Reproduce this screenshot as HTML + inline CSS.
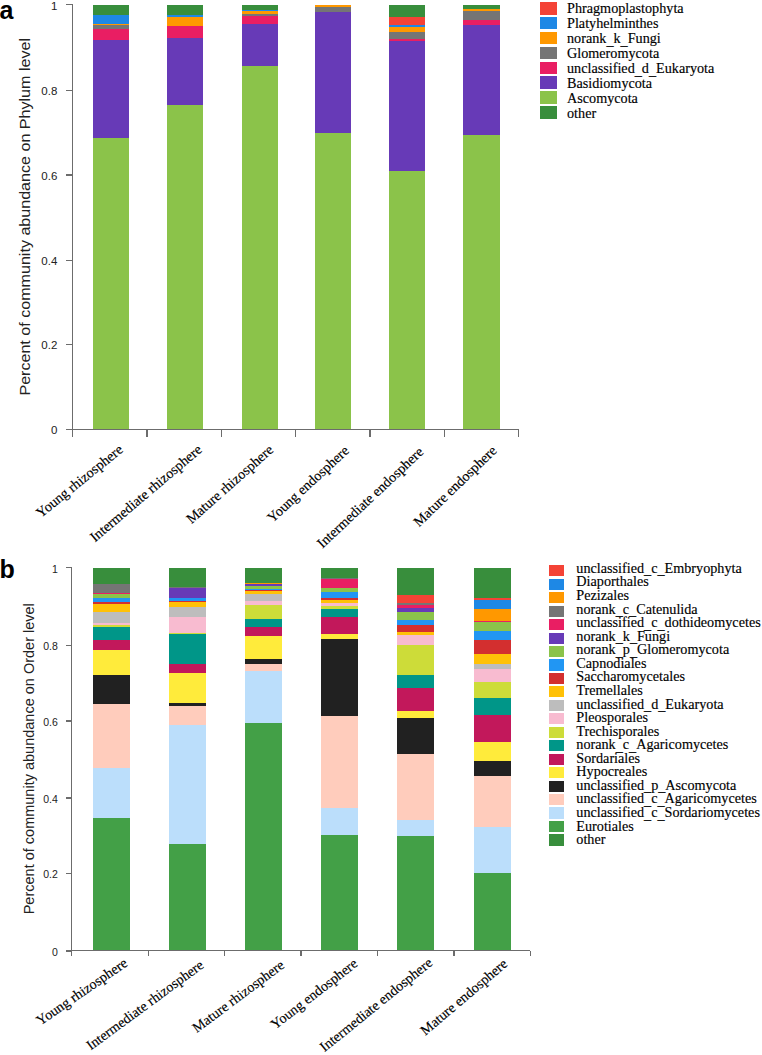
<!DOCTYPE html>
<html><head><meta charset="utf-8"><style>
html,body{margin:0;padding:0;background:#fff;width:762px;height:1055px;overflow:hidden}
svg{display:block}
svg text{shape-rendering:auto}
</style></head><body><svg width="762" height="1055" viewBox="0 0 762 1055" shape-rendering="crispEdges"><rect x="92.50" y="5.00" width="36.20" height="9.50" fill="#388E3C"/>
<rect x="92.50" y="14.50" width="36.20" height="9.40" fill="#1E88E5"/>
<rect x="92.50" y="23.90" width="36.20" height="1.30" fill="#FF9800"/>
<rect x="92.50" y="25.20" width="36.20" height="4.10" fill="#757575"/>
<rect x="92.50" y="29.30" width="36.20" height="10.80" fill="#E91E63"/>
<rect x="92.50" y="40.10" width="36.20" height="97.90" fill="#673AB7"/>
<rect x="92.50" y="138.00" width="36.20" height="291.60" fill="#8BC34A"/>
<rect x="167.00" y="5.00" width="36.20" height="10.00" fill="#388E3C"/>
<rect x="167.00" y="15.00" width="36.20" height="1.70" fill="#1E88E5"/>
<rect x="167.00" y="16.70" width="36.20" height="9.70" fill="#FF9800"/>
<rect x="167.00" y="26.40" width="36.20" height="11.50" fill="#E91E63"/>
<rect x="167.00" y="37.90" width="36.20" height="67.10" fill="#673AB7"/>
<rect x="167.00" y="105.00" width="36.20" height="324.60" fill="#8BC34A"/>
<rect x="241.60" y="5.00" width="36.20" height="4.90" fill="#388E3C"/>
<rect x="241.60" y="9.90" width="36.20" height="1.40" fill="#1E88E5"/>
<rect x="241.60" y="11.30" width="36.20" height="2.30" fill="#FF9800"/>
<rect x="241.60" y="13.60" width="36.20" height="2.60" fill="#757575"/>
<rect x="241.60" y="16.20" width="36.20" height="7.70" fill="#E91E63"/>
<rect x="241.60" y="23.90" width="36.20" height="41.90" fill="#673AB7"/>
<rect x="241.60" y="65.80" width="36.20" height="363.80" fill="#8BC34A"/>
<rect x="315.20" y="5.00" width="36.20" height="2.10" fill="#FF9800"/>
<rect x="315.20" y="7.10" width="36.20" height="5.10" fill="#757575"/>
<rect x="315.20" y="12.20" width="36.20" height="120.80" fill="#673AB7"/>
<rect x="315.20" y="133.00" width="36.20" height="296.60" fill="#8BC34A"/>
<rect x="388.90" y="5.00" width="36.20" height="11.60" fill="#388E3C"/>
<rect x="388.90" y="16.60" width="36.20" height="8.40" fill="#F44336"/>
<rect x="388.90" y="25.00" width="36.20" height="2.30" fill="#1E88E5"/>
<rect x="388.90" y="27.30" width="36.20" height="4.50" fill="#FF9800"/>
<rect x="388.90" y="31.80" width="36.20" height="7.00" fill="#757575"/>
<rect x="388.90" y="38.80" width="36.20" height="2.40" fill="#E91E63"/>
<rect x="388.90" y="41.20" width="36.20" height="130.10" fill="#673AB7"/>
<rect x="388.90" y="171.30" width="36.20" height="258.30" fill="#8BC34A"/>
<rect x="463.30" y="5.00" width="36.20" height="3.90" fill="#388E3C"/>
<rect x="463.30" y="8.90" width="36.20" height="2.20" fill="#FF9800"/>
<rect x="463.30" y="11.10" width="36.20" height="8.90" fill="#757575"/>
<rect x="463.30" y="20.00" width="36.20" height="5.20" fill="#E91E63"/>
<rect x="463.30" y="25.20" width="36.20" height="110.00" fill="#673AB7"/>
<rect x="463.30" y="135.20" width="36.20" height="294.40" fill="#8BC34A"/>
<line x1="72.60" y1="4.00" x2="72.60" y2="430.20" stroke="#6c6c6c" stroke-width="1.3"/>
<line x1="66.00" y1="429.60" x2="72.60" y2="429.60" stroke="#6c6c6c" stroke-width="1.3"/>
<text x="57.30" y="434.00" font-family="Liberation Sans" font-size="11.5" text-anchor="end" fill="#222">0</text>
<line x1="66.00" y1="344.40" x2="72.60" y2="344.40" stroke="#6c6c6c" stroke-width="1.3"/>
<text x="57.30" y="348.80" font-family="Liberation Sans" font-size="11.5" text-anchor="end" fill="#222">0.2</text>
<line x1="66.00" y1="260.20" x2="72.60" y2="260.20" stroke="#6c6c6c" stroke-width="1.3"/>
<text x="57.30" y="264.60" font-family="Liberation Sans" font-size="11.5" text-anchor="end" fill="#222">0.4</text>
<line x1="66.00" y1="175.10" x2="72.60" y2="175.10" stroke="#6c6c6c" stroke-width="1.3"/>
<text x="57.30" y="179.50" font-family="Liberation Sans" font-size="11.5" text-anchor="end" fill="#222">0.6</text>
<line x1="66.00" y1="90.80" x2="72.60" y2="90.80" stroke="#6c6c6c" stroke-width="1.3"/>
<text x="57.30" y="95.20" font-family="Liberation Sans" font-size="11.5" text-anchor="end" fill="#222">0.8</text>
<line x1="66.00" y1="4.40" x2="72.60" y2="4.40" stroke="#6c6c6c" stroke-width="1.3"/>
<text x="57.30" y="10.10" font-family="Liberation Sans" font-size="11.5" text-anchor="end" fill="#222">1</text>
<line x1="66.00" y1="429.60" x2="518.80" y2="429.60" stroke="#6c6c6c" stroke-width="1.3"/>
<line x1="72.80" y1="429.60" x2="72.80" y2="436.50" stroke="#6c6c6c" stroke-width="1.3"/>
<line x1="147.13" y1="429.60" x2="147.13" y2="436.50" stroke="#6c6c6c" stroke-width="1.3"/>
<line x1="221.47" y1="429.60" x2="221.47" y2="436.50" stroke="#6c6c6c" stroke-width="1.3"/>
<line x1="295.80" y1="429.60" x2="295.80" y2="436.50" stroke="#6c6c6c" stroke-width="1.3"/>
<line x1="370.13" y1="429.60" x2="370.13" y2="436.50" stroke="#6c6c6c" stroke-width="1.3"/>
<line x1="444.47" y1="429.60" x2="444.47" y2="436.50" stroke="#6c6c6c" stroke-width="1.3"/>
<line x1="518.80" y1="429.60" x2="518.80" y2="436.50" stroke="#6c6c6c" stroke-width="1.3"/>
<text x="0" y="0" font-family="Liberation Sans" font-size="16.1" fill="#222" transform="translate(30.2 395.6) rotate(-90) scale(1 0.91)">Percent of community abundance on Phylum level</text>
<text x="-0.50" y="18.60" font-family="Liberation Sans" font-size="25" text-anchor="start" fill="#000" font-weight="bold">a</text>
<text x="123.90" y="451.00" font-family="Liberation Serif" font-size="14.2" text-anchor="end" fill="#000" transform="rotate(-39 123.90 451.00)" stroke="#000" stroke-width="0.15">Young rhizosphere</text>
<text x="202.80" y="451.00" font-family="Liberation Serif" font-size="14.2" text-anchor="end" fill="#000" transform="rotate(-40.3 202.80 451.00)" stroke="#000" stroke-width="0.15">Intermediate rhizosphere</text>
<text x="274.30" y="451.00" font-family="Liberation Serif" font-size="14.2" text-anchor="end" fill="#000" transform="rotate(-41.5 274.30 451.00)" stroke="#000" stroke-width="0.15">Mature rhizosphere</text>
<text x="349.90" y="451.80" font-family="Liberation Serif" font-size="14.2" text-anchor="end" fill="#000" transform="rotate(-42.7 349.90 451.80)" stroke="#000" stroke-width="0.15">Young endosphere</text>
<text x="424.40" y="453.00" font-family="Liberation Serif" font-size="14.2" text-anchor="end" fill="#000" transform="rotate(-43.2 424.40 453.00)" stroke="#000" stroke-width="0.15">Intermediate endosphere</text>
<text x="497.50" y="451.60" font-family="Liberation Serif" font-size="14.2" text-anchor="end" fill="#000" transform="rotate(-44 497.50 451.60)" stroke="#000" stroke-width="0.15">Mature endosphere</text>
<rect x="540.00" y="2.00" width="17.00" height="12.50" fill="#F44336"/>
<text x="567.00" y="13.10" font-family="Liberation Serif" font-size="14.2" text-anchor="start" fill="#000" stroke="#000" stroke-width="0.15">Phragmoplastophyta</text>
<rect x="540.00" y="16.89" width="17.00" height="12.50" fill="#1E88E5"/>
<text x="567.00" y="28.09" font-family="Liberation Serif" font-size="14.2" text-anchor="start" fill="#000" stroke="#000" stroke-width="0.15">Platyhelminthes</text>
<rect x="540.00" y="31.78" width="17.00" height="12.50" fill="#FF9800"/>
<text x="567.00" y="43.08" font-family="Liberation Serif" font-size="14.2" text-anchor="start" fill="#000" stroke="#000" stroke-width="0.15">norank<tspan dy="1.5">_</tspan><tspan dy="-1.5">k</tspan><tspan dy="1.5">_</tspan><tspan dy="-1.5">Fungi</tspan></text>
<rect x="540.00" y="46.67" width="17.00" height="12.50" fill="#757575"/>
<text x="567.00" y="58.07" font-family="Liberation Serif" font-size="14.2" text-anchor="start" fill="#000" stroke="#000" stroke-width="0.15">Glomeromycota</text>
<rect x="540.00" y="61.56" width="17.00" height="12.50" fill="#E91E63"/>
<text x="567.00" y="73.06" font-family="Liberation Serif" font-size="14.2" text-anchor="start" fill="#000" stroke="#000" stroke-width="0.15">unclassified<tspan dy="1.5">_</tspan><tspan dy="-1.5">d</tspan><tspan dy="1.5">_</tspan><tspan dy="-1.5">Eukaryota</tspan></text>
<rect x="540.00" y="76.45" width="17.00" height="12.50" fill="#673AB7"/>
<text x="567.00" y="88.05" font-family="Liberation Serif" font-size="14.2" text-anchor="start" fill="#000" stroke="#000" stroke-width="0.15">Basidiomycota</text>
<rect x="540.00" y="91.34" width="17.00" height="12.50" fill="#8BC34A"/>
<text x="567.00" y="103.04" font-family="Liberation Serif" font-size="14.2" text-anchor="start" fill="#000" stroke="#000" stroke-width="0.15">Ascomycota</text>
<rect x="540.00" y="106.23" width="17.00" height="12.50" fill="#388E3C"/>
<text x="567.00" y="118.03" font-family="Liberation Serif" font-size="14.2" text-anchor="start" fill="#000" stroke="#000" stroke-width="0.15">other</text>
<rect x="92.80" y="568.10" width="37.00" height="16.10" fill="#388E3C"/>
<rect x="92.80" y="584.20" width="37.00" height="8.50" fill="#757575"/>
<rect x="92.80" y="592.70" width="37.00" height="1.40" fill="#E91E63"/>
<rect x="92.80" y="594.10" width="37.00" height="3.80" fill="#8BC34A"/>
<rect x="92.80" y="597.90" width="37.00" height="3.80" fill="#2196F3"/>
<rect x="92.80" y="601.70" width="37.00" height="2.70" fill="#D32F2F"/>
<rect x="92.80" y="604.40" width="37.00" height="7.70" fill="#FFC107"/>
<rect x="92.80" y="612.10" width="37.00" height="10.60" fill="#BDBDBD"/>
<rect x="92.80" y="622.70" width="37.00" height="2.00" fill="#F8BBD0"/>
<rect x="92.80" y="624.70" width="37.00" height="1.90" fill="#CDDC39"/>
<rect x="92.80" y="626.60" width="37.00" height="13.50" fill="#009688"/>
<rect x="92.80" y="640.10" width="37.00" height="10.20" fill="#C2185B"/>
<rect x="92.80" y="650.30" width="37.00" height="24.30" fill="#FFEB3B"/>
<rect x="92.80" y="674.60" width="37.00" height="29.50" fill="#212121"/>
<rect x="92.80" y="704.10" width="37.00" height="64.10" fill="#FFCCBC"/>
<rect x="92.80" y="768.20" width="37.00" height="49.30" fill="#BBDEFB"/>
<rect x="92.80" y="817.50" width="37.00" height="133.30" fill="#43A047"/>
<rect x="168.70" y="568.10" width="37.00" height="18.90" fill="#388E3C"/>
<rect x="168.70" y="587.00" width="37.00" height="1.40" fill="#757575"/>
<rect x="168.70" y="588.40" width="37.00" height="9.30" fill="#673AB7"/>
<rect x="168.70" y="597.70" width="37.00" height="2.90" fill="#2196F3"/>
<rect x="168.70" y="600.60" width="37.00" height="1.10" fill="#D32F2F"/>
<rect x="168.70" y="601.70" width="37.00" height="5.70" fill="#FFC107"/>
<rect x="168.70" y="607.40" width="37.00" height="9.30" fill="#BDBDBD"/>
<rect x="168.70" y="616.70" width="37.00" height="15.80" fill="#F8BBD0"/>
<rect x="168.70" y="632.50" width="37.00" height="1.20" fill="#CDDC39"/>
<rect x="168.70" y="633.70" width="37.00" height="30.50" fill="#009688"/>
<rect x="168.70" y="664.20" width="37.00" height="8.50" fill="#C2185B"/>
<rect x="168.70" y="672.70" width="37.00" height="30.00" fill="#FFEB3B"/>
<rect x="168.70" y="702.70" width="37.00" height="3.10" fill="#212121"/>
<rect x="168.70" y="705.80" width="37.00" height="18.80" fill="#FFCCBC"/>
<rect x="168.70" y="724.60" width="37.00" height="118.90" fill="#BBDEFB"/>
<rect x="168.70" y="843.50" width="37.00" height="107.30" fill="#43A047"/>
<rect x="245.20" y="568.10" width="37.00" height="15.10" fill="#388E3C"/>
<rect x="245.20" y="583.20" width="37.00" height="1.00" fill="#FF9800"/>
<rect x="245.20" y="584.20" width="37.00" height="1.90" fill="#673AB7"/>
<rect x="245.20" y="586.10" width="37.00" height="2.80" fill="#8BC34A"/>
<rect x="245.20" y="588.90" width="37.00" height="1.20" fill="#2196F3"/>
<rect x="245.20" y="590.10" width="37.00" height="0.70" fill="#D32F2F"/>
<rect x="245.20" y="590.80" width="37.00" height="3.10" fill="#FFC107"/>
<rect x="245.20" y="593.90" width="37.00" height="6.90" fill="#BDBDBD"/>
<rect x="245.20" y="600.80" width="37.00" height="3.70" fill="#F8BBD0"/>
<rect x="245.20" y="604.50" width="37.00" height="14.30" fill="#CDDC39"/>
<rect x="245.20" y="618.80" width="37.00" height="8.00" fill="#009688"/>
<rect x="245.20" y="626.80" width="37.00" height="9.00" fill="#C2185B"/>
<rect x="245.20" y="635.80" width="37.00" height="23.20" fill="#FFEB3B"/>
<rect x="245.20" y="659.00" width="37.00" height="4.70" fill="#212121"/>
<rect x="245.20" y="663.70" width="37.00" height="7.10" fill="#FFCCBC"/>
<rect x="245.20" y="670.80" width="37.00" height="51.70" fill="#BBDEFB"/>
<rect x="245.20" y="722.50" width="37.00" height="228.30" fill="#43A047"/>
<rect x="321.40" y="568.10" width="37.00" height="9.40" fill="#388E3C"/>
<rect x="321.40" y="577.50" width="37.00" height="1.00" fill="#757575"/>
<rect x="321.40" y="578.50" width="37.00" height="9.00" fill="#E91E63"/>
<rect x="321.40" y="587.50" width="37.00" height="4.50" fill="#8BC34A"/>
<rect x="321.40" y="592.00" width="37.00" height="5.90" fill="#2196F3"/>
<rect x="321.40" y="597.90" width="37.00" height="1.90" fill="#D32F2F"/>
<rect x="321.40" y="599.80" width="37.00" height="3.30" fill="#FFC107"/>
<rect x="321.40" y="603.10" width="37.00" height="3.30" fill="#F8BBD0"/>
<rect x="321.40" y="606.40" width="37.00" height="2.90" fill="#CDDC39"/>
<rect x="321.40" y="609.30" width="37.00" height="7.60" fill="#009688"/>
<rect x="321.40" y="616.90" width="37.00" height="17.00" fill="#C2185B"/>
<rect x="321.40" y="633.90" width="37.00" height="5.20" fill="#FFEB3B"/>
<rect x="321.40" y="639.10" width="37.00" height="76.70" fill="#212121"/>
<rect x="321.40" y="715.80" width="37.00" height="92.00" fill="#FFCCBC"/>
<rect x="321.40" y="807.80" width="37.00" height="27.50" fill="#BBDEFB"/>
<rect x="321.40" y="835.30" width="37.00" height="115.50" fill="#43A047"/>
<rect x="397.00" y="568.10" width="37.00" height="26.80" fill="#388E3C"/>
<rect x="397.00" y="594.90" width="37.00" height="8.20" fill="#F44336"/>
<rect x="397.00" y="603.10" width="37.00" height="1.60" fill="#757575"/>
<rect x="397.00" y="604.70" width="37.00" height="3.60" fill="#E91E63"/>
<rect x="397.00" y="608.30" width="37.00" height="3.60" fill="#673AB7"/>
<rect x="397.00" y="611.90" width="37.00" height="7.80" fill="#8BC34A"/>
<rect x="397.00" y="619.70" width="37.00" height="5.00" fill="#2196F3"/>
<rect x="397.00" y="624.70" width="37.00" height="7.30" fill="#D32F2F"/>
<rect x="397.00" y="632.00" width="37.00" height="3.40" fill="#FFC107"/>
<rect x="397.00" y="635.40" width="37.00" height="9.30" fill="#F8BBD0"/>
<rect x="397.00" y="644.70" width="37.00" height="29.90" fill="#CDDC39"/>
<rect x="397.00" y="674.60" width="37.00" height="13.60" fill="#009688"/>
<rect x="397.00" y="688.20" width="37.00" height="22.80" fill="#C2185B"/>
<rect x="397.00" y="711.00" width="37.00" height="7.00" fill="#FFEB3B"/>
<rect x="397.00" y="718.00" width="37.00" height="36.40" fill="#212121"/>
<rect x="397.00" y="754.40" width="37.00" height="66.00" fill="#FFCCBC"/>
<rect x="397.00" y="820.40" width="37.00" height="15.10" fill="#BBDEFB"/>
<rect x="397.00" y="835.50" width="37.00" height="115.30" fill="#43A047"/>
<rect x="473.90" y="568.10" width="37.00" height="30.30" fill="#388E3C"/>
<rect x="473.90" y="598.40" width="37.00" height="1.40" fill="#F44336"/>
<rect x="473.90" y="599.80" width="37.00" height="9.50" fill="#1E88E5"/>
<rect x="473.90" y="609.30" width="37.00" height="11.40" fill="#FF9800"/>
<rect x="473.90" y="620.70" width="37.00" height="1.10" fill="#E91E63"/>
<rect x="473.90" y="621.80" width="37.00" height="9.50" fill="#8BC34A"/>
<rect x="473.90" y="631.30" width="37.00" height="8.80" fill="#2196F3"/>
<rect x="473.90" y="640.10" width="37.00" height="13.90" fill="#D32F2F"/>
<rect x="473.90" y="654.00" width="37.00" height="10.20" fill="#FFC107"/>
<rect x="473.90" y="664.20" width="37.00" height="4.70" fill="#BDBDBD"/>
<rect x="473.90" y="668.90" width="37.00" height="13.30" fill="#F8BBD0"/>
<rect x="473.90" y="682.20" width="37.00" height="15.40" fill="#CDDC39"/>
<rect x="473.90" y="697.60" width="37.00" height="17.50" fill="#009688"/>
<rect x="473.90" y="715.10" width="37.00" height="26.60" fill="#C2185B"/>
<rect x="473.90" y="741.70" width="37.00" height="19.30" fill="#FFEB3B"/>
<rect x="473.90" y="761.00" width="37.00" height="14.50" fill="#212121"/>
<rect x="473.90" y="775.50" width="37.00" height="51.10" fill="#FFCCBC"/>
<rect x="473.90" y="826.60" width="37.00" height="45.90" fill="#BBDEFB"/>
<rect x="473.90" y="872.50" width="37.00" height="78.30" fill="#43A047"/>
<line x1="71.70" y1="567.00" x2="71.70" y2="951.40" stroke="#6c6c6c" stroke-width="1.3"/>
<line x1="66.00" y1="950.90" x2="71.70" y2="950.90" stroke="#6c6c6c" stroke-width="1.3"/>
<text x="57.80" y="955.70" font-family="Liberation Sans" font-size="10.5" text-anchor="end" fill="#222">0</text>
<line x1="66.00" y1="873.60" x2="71.70" y2="873.60" stroke="#6c6c6c" stroke-width="1.3"/>
<text x="57.80" y="878.40" font-family="Liberation Sans" font-size="10.5" text-anchor="end" fill="#222">0.2</text>
<line x1="66.00" y1="798.10" x2="71.70" y2="798.10" stroke="#6c6c6c" stroke-width="1.3"/>
<text x="57.80" y="802.90" font-family="Liberation Sans" font-size="10.5" text-anchor="end" fill="#222">0.4</text>
<line x1="66.00" y1="721.10" x2="71.70" y2="721.10" stroke="#6c6c6c" stroke-width="1.3"/>
<text x="57.80" y="725.90" font-family="Liberation Sans" font-size="10.5" text-anchor="end" fill="#222">0.6</text>
<line x1="66.00" y1="645.40" x2="71.70" y2="645.40" stroke="#6c6c6c" stroke-width="1.3"/>
<text x="57.80" y="650.20" font-family="Liberation Sans" font-size="10.5" text-anchor="end" fill="#222">0.8</text>
<line x1="66.00" y1="567.50" x2="71.70" y2="567.50" stroke="#6c6c6c" stroke-width="1.3"/>
<text x="57.80" y="573.30" font-family="Liberation Sans" font-size="10.5" text-anchor="end" fill="#222">1</text>
<line x1="66.00" y1="950.80" x2="530.40" y2="950.80" stroke="#6c6c6c" stroke-width="1.3"/>
<line x1="71.70" y1="950.80" x2="71.70" y2="956.00" stroke="#6c6c6c" stroke-width="1.3"/>
<line x1="148.15" y1="950.80" x2="148.15" y2="956.00" stroke="#6c6c6c" stroke-width="1.3"/>
<line x1="224.60" y1="950.80" x2="224.60" y2="956.00" stroke="#6c6c6c" stroke-width="1.3"/>
<line x1="301.05" y1="950.80" x2="301.05" y2="956.00" stroke="#6c6c6c" stroke-width="1.3"/>
<line x1="377.50" y1="950.80" x2="377.50" y2="956.00" stroke="#6c6c6c" stroke-width="1.3"/>
<line x1="453.95" y1="950.80" x2="453.95" y2="956.00" stroke="#6c6c6c" stroke-width="1.3"/>
<line x1="530.40" y1="950.80" x2="530.40" y2="956.00" stroke="#6c6c6c" stroke-width="1.3"/>
<text x="33.60" y="914.30" font-family="Liberation Sans" font-size="14.5" text-anchor="start" fill="#222" transform="rotate(-90 33.60 914.30)">Percent of community abundance on Order level</text>
<text x="-0.50" y="577.90" font-family="Liberation Sans" font-size="25" text-anchor="start" fill="#000" font-weight="bold">b</text>
<text x="128.50" y="965.20" font-family="Liberation Serif" font-size="14.2" text-anchor="end" fill="#000" transform="rotate(-34.5 128.50 965.20)" stroke="#000" stroke-width="0.15">Young rhizosphere</text>
<text x="204.70" y="966.90" font-family="Liberation Serif" font-size="14.2" text-anchor="end" fill="#000" transform="rotate(-36.3 204.70 966.90)" stroke="#000" stroke-width="0.15">Intermediate rhizosphere</text>
<text x="285.30" y="966.90" font-family="Liberation Serif" font-size="14.2" text-anchor="end" fill="#000" transform="rotate(-36.8 285.30 966.90)" stroke="#000" stroke-width="0.15">Mature rhizosphere</text>
<text x="358.60" y="965.20" font-family="Liberation Serif" font-size="14.2" text-anchor="end" fill="#000" transform="rotate(-37.8 358.60 965.20)" stroke="#000" stroke-width="0.15">Young endosphere</text>
<text x="433.30" y="964.30" font-family="Liberation Serif" font-size="14.2" text-anchor="end" fill="#000" transform="rotate(-39 433.30 964.30)" stroke="#000" stroke-width="0.15">Intermediate endosphere</text>
<text x="508.40" y="965.20" font-family="Liberation Serif" font-size="14.2" text-anchor="end" fill="#000" transform="rotate(-40.4 508.40 965.20)" stroke="#000" stroke-width="0.15">Mature endosphere</text>
<rect x="549.20" y="565.20" width="15.00" height="11.10" fill="#F44336"/>
<text x="576.30" y="572.80" font-family="Liberation Serif" font-size="14.2" text-anchor="start" fill="#000" stroke="#000" stroke-width="0.15">unclassified<tspan dy="1.5">_</tspan><tspan dy="-1.5">c</tspan><tspan dy="1.5">_</tspan><tspan dy="-1.5">Embryophyta</tspan></text>
<rect x="549.20" y="578.66" width="15.00" height="11.10" fill="#1E88E5"/>
<text x="576.30" y="586.37" font-family="Liberation Serif" font-size="14.2" text-anchor="start" fill="#000" stroke="#000" stroke-width="0.15">Diaporthales</text>
<rect x="549.20" y="592.12" width="15.00" height="11.10" fill="#FF9800"/>
<text x="576.30" y="599.94" font-family="Liberation Serif" font-size="14.2" text-anchor="start" fill="#000" stroke="#000" stroke-width="0.15">Pezizales</text>
<rect x="549.20" y="605.58" width="15.00" height="11.10" fill="#757575"/>
<text x="576.30" y="613.51" font-family="Liberation Serif" font-size="14.2" text-anchor="start" fill="#000" stroke="#000" stroke-width="0.15">norank<tspan dy="1.5">_</tspan><tspan dy="-1.5">c</tspan><tspan dy="1.5">_</tspan><tspan dy="-1.5">Catenulida</tspan></text>
<rect x="549.20" y="619.04" width="15.00" height="11.10" fill="#E91E63"/>
<text x="576.30" y="627.08" font-family="Liberation Serif" font-size="14.2" text-anchor="start" fill="#000" stroke="#000" stroke-width="0.15">unclassified<tspan dy="1.5">_</tspan><tspan dy="-1.5">c</tspan><tspan dy="1.5">_</tspan><tspan dy="-1.5">dothideomycetes</tspan></text>
<rect x="549.20" y="632.50" width="15.00" height="11.10" fill="#673AB7"/>
<text x="576.30" y="640.65" font-family="Liberation Serif" font-size="14.2" text-anchor="start" fill="#000" stroke="#000" stroke-width="0.15">norank<tspan dy="1.5">_</tspan><tspan dy="-1.5">k</tspan><tspan dy="1.5">_</tspan><tspan dy="-1.5">Fungi</tspan></text>
<rect x="549.20" y="645.96" width="15.00" height="11.10" fill="#8BC34A"/>
<text x="576.30" y="654.22" font-family="Liberation Serif" font-size="14.2" text-anchor="start" fill="#000" stroke="#000" stroke-width="0.15">norank<tspan dy="1.5">_</tspan><tspan dy="-1.5">p</tspan><tspan dy="1.5">_</tspan><tspan dy="-1.5">Glomeromycota</tspan></text>
<rect x="549.20" y="659.42" width="15.00" height="11.10" fill="#2196F3"/>
<text x="576.30" y="667.79" font-family="Liberation Serif" font-size="14.2" text-anchor="start" fill="#000" stroke="#000" stroke-width="0.15">Capnodiales</text>
<rect x="549.20" y="672.88" width="15.00" height="11.10" fill="#D32F2F"/>
<text x="576.30" y="681.36" font-family="Liberation Serif" font-size="14.2" text-anchor="start" fill="#000" stroke="#000" stroke-width="0.15">Saccharomycetales</text>
<rect x="549.20" y="686.34" width="15.00" height="11.10" fill="#FFC107"/>
<text x="576.30" y="694.93" font-family="Liberation Serif" font-size="14.2" text-anchor="start" fill="#000" stroke="#000" stroke-width="0.15">Tremellales</text>
<rect x="549.20" y="699.80" width="15.00" height="11.10" fill="#BDBDBD"/>
<text x="576.30" y="708.50" font-family="Liberation Serif" font-size="14.2" text-anchor="start" fill="#000" stroke="#000" stroke-width="0.15">unclassified<tspan dy="1.5">_</tspan><tspan dy="-1.5">d</tspan><tspan dy="1.5">_</tspan><tspan dy="-1.5">Eukaryota</tspan></text>
<rect x="549.20" y="713.26" width="15.00" height="11.10" fill="#F8BBD0"/>
<text x="576.30" y="722.07" font-family="Liberation Serif" font-size="14.2" text-anchor="start" fill="#000" stroke="#000" stroke-width="0.15">Pleosporales</text>
<rect x="549.20" y="726.72" width="15.00" height="11.10" fill="#CDDC39"/>
<text x="576.30" y="735.64" font-family="Liberation Serif" font-size="14.2" text-anchor="start" fill="#000" stroke="#000" stroke-width="0.15">Trechisporales</text>
<rect x="549.20" y="740.18" width="15.00" height="11.10" fill="#009688"/>
<text x="576.30" y="749.21" font-family="Liberation Serif" font-size="14.2" text-anchor="start" fill="#000" stroke="#000" stroke-width="0.15">norank<tspan dy="1.5">_</tspan><tspan dy="-1.5">c</tspan><tspan dy="1.5">_</tspan><tspan dy="-1.5">Agaricomycetes</tspan></text>
<rect x="549.20" y="753.64" width="15.00" height="11.10" fill="#C2185B"/>
<text x="576.30" y="762.78" font-family="Liberation Serif" font-size="14.2" text-anchor="start" fill="#000" stroke="#000" stroke-width="0.15">Sordariales</text>
<rect x="549.20" y="767.10" width="15.00" height="11.10" fill="#FFEB3B"/>
<text x="576.30" y="776.35" font-family="Liberation Serif" font-size="14.2" text-anchor="start" fill="#000" stroke="#000" stroke-width="0.15">Hypocreales</text>
<rect x="549.20" y="780.56" width="15.00" height="11.10" fill="#212121"/>
<text x="576.30" y="789.92" font-family="Liberation Serif" font-size="14.2" text-anchor="start" fill="#000" stroke="#000" stroke-width="0.15">unclassified<tspan dy="1.5">_</tspan><tspan dy="-1.5">p</tspan><tspan dy="1.5">_</tspan><tspan dy="-1.5">Ascomycota</tspan></text>
<rect x="549.20" y="794.02" width="15.00" height="11.10" fill="#FFCCBC"/>
<text x="576.30" y="803.49" font-family="Liberation Serif" font-size="14.2" text-anchor="start" fill="#000" stroke="#000" stroke-width="0.15">unclassified<tspan dy="1.5">_</tspan><tspan dy="-1.5">c</tspan><tspan dy="1.5">_</tspan><tspan dy="-1.5">Agaricomycetes</tspan></text>
<rect x="549.20" y="807.48" width="15.00" height="11.10" fill="#BBDEFB"/>
<text x="576.30" y="817.06" font-family="Liberation Serif" font-size="14.2" text-anchor="start" fill="#000" stroke="#000" stroke-width="0.15">unclassified<tspan dy="1.5">_</tspan><tspan dy="-1.5">c</tspan><tspan dy="1.5">_</tspan><tspan dy="-1.5">Sordariomycetes</tspan></text>
<rect x="549.20" y="820.94" width="15.00" height="11.10" fill="#43A047"/>
<text x="576.30" y="830.63" font-family="Liberation Serif" font-size="14.2" text-anchor="start" fill="#000" stroke="#000" stroke-width="0.15">Eurotiales</text>
<rect x="549.20" y="834.40" width="15.00" height="11.10" fill="#388E3C"/>
<text x="576.30" y="844.20" font-family="Liberation Serif" font-size="14.2" text-anchor="start" fill="#000" stroke="#000" stroke-width="0.15">other</text></svg></body></html>
